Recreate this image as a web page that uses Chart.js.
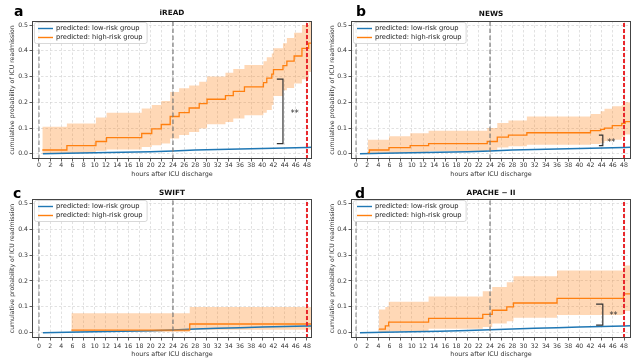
<!DOCTYPE html>
<html>
<head>
<meta charset="utf-8">
<script src="https://cdn.jsdelivr.net/npm/chart.js@4.4.1/dist/chart.umd.min.js"></script>
<style>
  body { margin: 0; background: #fff; }
  #wrap { position: relative; width: 640px; height: 364px; }
  #wrap canvas { position: absolute; }
</style>
</head>
<body>
<div id="wrap">
  <canvas id="pa" width="320" height="182" style="left:0;top:0"></canvas>
  <canvas id="pb" width="320" height="182" style="left:320px;top:0"></canvas>
  <canvas id="pc" width="320" height="182" style="left:0;top:182px"></canvas>
  <canvas id="pd" width="320" height="182" style="left:320px;top:182px"></canvas>
</div>
<script>
// axis ticks
const HOUR_TICKS = [0, 2, 4, 6, 8, 10, 12, 14, 16, 18, 20, 22, 24, 26, 28, 30, 32, 34, 36, 38, 40, 42, 44, 46, 48];
const PROB_TICKS = [0, 0.1, 0.2, 0.3, 0.4, 0.5];
const Y_MIN = -0.02, Y_MAX = 0.516;
const GRAY_HOURS = [0, 24];
const RED_HOUR = 48;

// low-risk group (blue), same time grid for every panel
const LOW_T = [0.7, 5, 10, 15, 20, 24, 28, 32, 36, 40, 44, 48, 49.5];
const IREAD_LOW = [0.0, 0.002, 0.004, 0.006, 0.008, 0.011, 0.015, 0.017, 0.019, 0.021, 0.023, 0.025, 0.026];
const NEWS_LOW = [0.0, 0.002, 0.004, 0.006, 0.008, 0.011, 0.015, 0.017, 0.019, 0.021, 0.023, 0.025, 0.026];
const SWIFT_LOW = [0.0, 0.002, 0.004, 0.006, 0.008, 0.011, 0.015, 0.018, 0.020, 0.022, 0.024, 0.026, 0.027];
const APACHE_LOW = [0.0, 0.002, 0.004, 0.006, 0.009, 0.012, 0.015, 0.018, 0.020, 0.022, 0.024, 0.026, 0.027];

// high-risk group (orange) step curves + confidence band
const IREAD_T = [0.6, 5.0, 10.2, 12.1, 18.4, 20.2, 21.9, 23.5, 25.1, 26.9, 28.7, 30.1, 33.4, 34.8, 36.8, 40.2, 40.8, 41.7, 42.0, 43.7, 44.4, 45.7, 47.1, 48.3, 49.5];
const IREAD_HI = [0.015, 0.032, 0.048, 0.063, 0.079, 0.097, 0.114, 0.145, 0.160, 0.178, 0.195, 0.212, 0.226, 0.243, 0.260, 0.277, 0.294, 0.310, 0.327, 0.343, 0.360, 0.380, 0.410, 0.430, 0.430];
const IREAD_UP = [0.105, 0.118, 0.141, 0.160, 0.176, 0.190, 0.205, 0.240, 0.255, 0.265, 0.280, 0.300, 0.315, 0.330, 0.345, 0.360, 0.375, 0.390, 0.410, 0.430, 0.450, 0.470, 0.500, 0.560, 0.560];
const IREAD_LO = [0.0, 0.003, 0.012, 0.017, 0.027, 0.033, 0.040, 0.060, 0.073, 0.085, 0.098, 0.115, 0.124, 0.137, 0.150, 0.160, 0.170, 0.190, 0.225, 0.247, 0.256, 0.273, 0.290, 0.318, 0.318];

const NEWS_T = [2.1, 2.4, 5.9, 9.7, 13.0, 23.5, 25.3, 27.3, 30.6, 42.0, 43.8, 44.5, 45.9, 47.6, 48.2, 49.5];
const NEWS_HI = [0.005, 0.015, 0.024, 0.032, 0.040, 0.048, 0.065, 0.073, 0.082, 0.090, 0.095, 0.100, 0.110, 0.118, 0.125, 0.125];
const NEWS_UP = [0.055, 0.055, 0.068, 0.080, 0.090, 0.100, 0.120, 0.130, 0.145, 0.155, 0.165, 0.175, 0.185, 0.190, 0.200, 0.200];
const NEWS_LO = [0.0, 0.0, 0.003, 0.006, 0.010, 0.015, 0.025, 0.030, 0.035, 0.038, 0.042, 0.050, 0.055, 0.065, 0.075, 0.075];

const SWIFT_T = [5.8, 27.0, 49.5];
const SWIFT_HI = [0.010, 0.034, 0.034];
const SWIFT_UP = [0.075, 0.100, 0.100];
const SWIFT_LO = [0.003, 0.012, 0.012];

const APACHE_T = [4.06, 5.25, 5.85, 13.0, 22.7, 24.4, 27.0, 28.2, 36.0, 47.9, 49.5];
const APACHE_HI = [0.014, 0.027, 0.041, 0.056, 0.071, 0.087, 0.100, 0.115, 0.133, 0.150, 0.150];
const APACHE_UP = [0.090, 0.100, 0.120, 0.140, 0.160, 0.177, 0.195, 0.218, 0.240, 0.260, 0.260];
const APACHE_LO = [0.0, 0.002, 0.006, 0.016, 0.022, 0.036, 0.045, 0.058, 0.069, 0.084, 0.084];

// significance brackets: [tick start hour, bar hour, bottom, top], label [hour, prob]
const IREAD_BRACKET = [42.6, 43.7, 0.04, 0.29];
const IREAD_STARS = [45.8, 0.163];
const NEWS_BRACKET = [43.5, 44.2, 0.032, 0.0725];
const NEWS_STARS = [45.7, 0.052];
const APACHE_BRACKET = [43.0, 44.2, 0.03, 0.111];
const APACHE_STARS = [46.1, 0.071];

const FONT = '"DejaVu Sans", sans-serif';
const BLUE = '#1f77b4', ORANGE = '#ff7f0e';

function pts(t, v) { return t.map((x, i) => ({ x: x, y: v[i] })); }

function vline(h, color, width, dash) {
  return {
    data: [{ x: h, y: Y_MIN }, { x: h, y: Y_MAX }],
    borderColor: color, borderWidth: width, borderDash: dash,
    pointRadius: 0, fill: false
  };
}

function makePanel(p) {
  const deco = {
    id: 'deco',
    afterDatasetsDraw(chart) {
      const ctx = chart.ctx, a = chart.chartArea;
      const xs = chart.scales.x, ys = chart.scales.y;
      ctx.save();
      // bracket
      if (p.bracket) {
        const [x0, x1, yb, yt] = p.bracket;
        ctx.strokeStyle = '#333';
        ctx.lineWidth = 1.2;
        ctx.beginPath();
        ctx.moveTo(xs.getPixelForValue(x0), ys.getPixelForValue(yt));
        ctx.lineTo(xs.getPixelForValue(x1), ys.getPixelForValue(yt));
        ctx.lineTo(xs.getPixelForValue(x1), ys.getPixelForValue(yb));
        ctx.lineTo(xs.getPixelForValue(x0), ys.getPixelForValue(yb));
        ctx.stroke();
        ctx.fillStyle = '#333';
        ctx.font = '8px ' + FONT;
        ctx.textAlign = 'center';
        ctx.textBaseline = 'middle';
        ctx.fillText('**', xs.getPixelForValue(p.stars[0]), ys.getPixelForValue(p.stars[1]) + 2);
      }
      // legend
      ctx.font = '6.7px ' + FONT;
      const lx = a.left + 2, ly = a.top + 1;
      const tw = ctx.measureText('predicted: high-risk group').width;
      const w = tw + 26, h = 21;
      ctx.fillStyle = 'rgba(255,255,255,0.85)';
      ctx.strokeStyle = '#cfcfcf';
      ctx.lineWidth = 0.8;
      ctx.beginPath();
      ctx.roundRect(lx + 0.5, ly + 0.5, w, h, 2);
      ctx.fill();
      ctx.stroke();
      const rows = [['predicted: low-risk group', BLUE], ['predicted: high-risk group', ORANGE]];
      rows.forEach((r, i) => {
        const cy = ly + 6.5 + i * 9;
        ctx.strokeStyle = r[1];
        ctx.lineWidth = 1.4;
        ctx.beginPath();
        ctx.moveTo(lx + 4, cy);
        ctx.lineTo(lx + 19, cy);
        ctx.stroke();
        ctx.fillStyle = '#222';
        ctx.textAlign = 'left';
        ctx.textBaseline = 'middle';
        ctx.fillText(r[0], lx + 22, cy);
      });
      // frame
      ctx.strokeStyle = '#444';
      ctx.lineWidth = 1;
      ctx.strokeRect(a.left + 0.5, a.top + 0.5, a.right - a.left - 1, a.bottom - a.top - 1);
      // title and panel letter
      ctx.fillStyle = '#111';
      ctx.font = 'bold 7.3px ' + FONT;
      ctx.textAlign = 'center';
      ctx.textBaseline = 'middle';
      ctx.fillText(p.title, (a.left + a.right) / 2, p.titleY);
      ctx.fillStyle = '#000';
      ctx.font = 'bold 14px ' + FONT;
      ctx.textAlign = 'left';
      ctx.textBaseline = 'alphabetic';
      ctx.fillText(p.letter, p.letterX, 16);
      ctx.restore();
    }
  };

  const [left, top, right, bottom] = p.area;
  const datasets = [
    vline(RED_HOUR, '#e8262b', 2, [4, 2]),
    vline(GRAY_HOURS[0], '#8a8a8a', 1.1, [4.5, 2.5]),
    vline(GRAY_HOURS[1], '#7a7a7a', 1.2, [4.5, 2.5]),
    { data: pts(p.t, p.hi), borderColor: ORANGE, borderWidth: 1.3, stepped: true, pointRadius: 0, fill: false },
    { data: pts(LOW_T, p.low), borderColor: BLUE, borderWidth: 1.5, pointRadius: 0, fill: false },
    { data: pts(p.t, p.up), borderWidth: 0, stepped: true, pointRadius: 0, fill: '+1', backgroundColor: 'rgba(255,127,14,0.3)' },
    { data: pts(p.t, p.lo), borderWidth: 0, stepped: true, pointRadius: 0, fill: false }
  ];

  new Chart(document.getElementById(p.id), {
    type: 'line',
    data: { datasets: datasets },
    options: {
      responsive: false,
      animation: false,
      devicePixelRatio: 1,
      layout: { padding: { top: top, right: 320 - right, left: 0, bottom: 0 } },
      scales: {
        x: {
          type: 'linear', min: p.xr[0], max: p.xr[1],
          afterBuildTicks: s => { s.ticks = HOUR_TICKS.map(v => ({ value: v })); },
          afterFit: s => { s.height = 182 - bottom; },
          grid: { color: '#cdcdcd', lineWidth: 0.6, tickLength: 2.5, tickColor: '#333', tickWidth: 0.8 },
          border: { display: false, dash: [2.5, 2] },
          ticks: { autoSkip: false, maxRotation: 0, padding: p.tickPad, color: '#333', font: { family: FONT, size: 6.2 } },
          title: { display: true, text: 'hours after ICU discharge', color: '#333', font: { family: FONT, size: 6.4 }, padding: { top: 0, bottom: p.xTitlePad } }
        },
        y: {
          min: Y_MIN, max: Y_MAX,
          afterBuildTicks: s => { s.ticks = PROB_TICKS.map(v => ({ value: v })); },
          afterFit: s => { s.width = left; },
          grid: { color: '#cdcdcd', lineWidth: 0.6, tickLength: 2.5, tickColor: '#333', tickWidth: 0.8 },
          border: { display: false, dash: [2.5, 2] },
          ticks: { padding: 1.5, color: '#333', font: { family: FONT, size: 6.2 }, callback: v => v.toFixed(1) },
          title: { display: true, text: 'cumulative probability of ICU readmission', color: '#333', font: { family: FONT, size: 6.2 }, padding: { top: 8.5, bottom: 0 } }
        }
      },
      plugins: { legend: { display: false }, tooltip: { enabled: false } }
    },
    plugins: [deco]
  });
}

makePanel({ id: 'pa', letter: 'a', title: 'iREAD', t: IREAD_T, hi: IREAD_HI, up: IREAD_UP, lo: IREAD_LO, low: IREAD_LOW,
  bracket: IREAD_BRACKET, stars: IREAD_STARS, xr: [-1.25, 48.9], area: [32, 21, 312, 159], titleY: 13.5, letterX: 14, tickPad: 0.5, xTitlePad: 4.3 });
makePanel({ id: 'pb', letter: 'b', title: 'NEWS', t: NEWS_T, hi: NEWS_HI, up: NEWS_UP, lo: NEWS_LO, low: NEWS_LOW,
  bracket: NEWS_BRACKET, stars: NEWS_STARS, xr: [-0.9, 49.25], area: [31, 21, 311, 159], titleY: 14, letterX: 36, tickPad: 0.5, xTitlePad: 4.3 });
makePanel({ id: 'pc', letter: 'c', title: 'SWIFT', t: SWIFT_T, hi: SWIFT_HI, up: SWIFT_UP, lo: SWIFT_LO, low: SWIFT_LOW,
  bracket: null, stars: null, xr: [-1.25, 48.9], area: [32, 17, 312, 156], titleY: 11, letterX: 13, tickPad: 2, xTitlePad: 5.6 });
makePanel({ id: 'pd', letter: 'd', title: 'APACHE \u2212 II', t: APACHE_T, hi: APACHE_HI, up: APACHE_UP, lo: APACHE_LO, low: APACHE_LOW,
  bracket: APACHE_BRACKET, stars: APACHE_STARS, xr: [-0.9, 49.25], area: [31, 17, 311, 156], titleY: 11, letterX: 35, tickPad: 2, xTitlePad: 5.6 });
</script>
</body>
</html>
